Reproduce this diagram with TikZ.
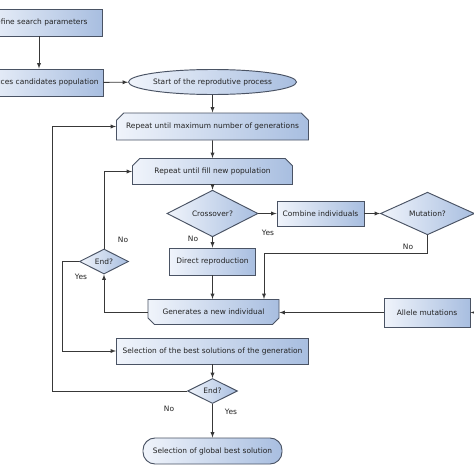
\documentclass[tikz,border=0pt]{standalone}
\usepackage{fontspec}
\setmainfont{DejaVu Sans}
\usepackage{tikz}
\usetikzlibrary{arrows}
\usetikzlibrary{shapes.geometric, shapes.misc}

\definecolor{boxline}{HTML}{4A5364}
\definecolor{boxlight}{HTML}{F0F4FB}
\definecolor{boxdark}{HTML}{A8BEE0}
\definecolor{wire}{HTML}{383838}
\definecolor{ink}{HTML}{222222}

\begin{document}
\begin{tikzpicture}[x=1pt, y=-1pt,
  every node/.style={font=\fontsize{7.45}{8.5}\selectfont, text=ink, inner sep=0pt},
  blockbox/.style={draw=boxline, line width=0.95pt, left color=boxlight, right color=boxdark, rectangle, minimum height=26pt},
  loopstart/.style={blockbox, chamfered rectangle, chamfered rectangle corners={north west, north east}, chamfered rectangle xsep=5pt},
  loopend/.style={blockbox, chamfered rectangle, chamfered rectangle corners={south west, south east}, chamfered rectangle xsep=5pt},
  decision/.style={blockbox, diamond},
  startoval/.style={blockbox, ellipse},
  terminal/.style={blockbox, rounded corners=12pt},
  lbl/.style={text=ink},
  flow/.style={->, >=latex, draw=wire, line width=0.9pt}]
\path[use as bounding box, clip] (0,0) rectangle (474,474);

\node[blockbox, minimum width=126pt, minimum height=27pt] (Def) at (39,22.5) {Define search parameters};
\node[blockbox, minimum width=128pt, minimum height=27pt] (Pop) at (39,82.5) {Produces candidates population};
\node[startoval, minimum width=128pt, minimum height=25pt] (Start) at (212.5,82) {Start of the reprodutive process};
\node[loopstart, minimum width=192pt, minimum height=27pt] (RepGen) at (212.5,126.5) {Repeat until maximum number of generations};
\node[loopstart, minimum width=160pt, minimum height=26pt] (RepPop) at (212.5,171.5) {Repeat until fill new population};
\node[decision, minimum width=91pt, minimum height=32pt] (Cross) at (212.5,213.5) {Crossover?};
\node[blockbox, minimum width=87pt, minimum height=25pt] (Comb) at (320.5,213.5) {Combine individuals};
\node[decision, minimum width=94pt, minimum height=32pt] (Mut) at (427.5,213.5) {Mutation?};
\node[blockbox, minimum width=86pt, minimum height=27pt] (Direct) at (212.5,261.5) {Direct reproduction};
\node[decision, minimum width=49pt, minimum height=25pt] (EndPop) at (104,261.5) {End?};
\node[loopend, minimum width=131pt, minimum height=25pt] (NewInd) at (213.5,312) {Generates a new individual};
\node[blockbox, minimum width=86pt, minimum height=29pt] (Allele) at (427,312.5) {Allele mutations};
\node[blockbox, minimum width=192pt, minimum height=26pt] (SelGen) at (212.5,351) {Selection of the best solutions of the generation};
\node[decision, minimum width=50pt, minimum height=25pt] (EndGen) at (212.5,391) {End?};
\node[terminal, minimum width=139pt, minimum height=26pt] (Global) at (212.5,451) {Selection of global best solution};

\coordinate (MutTurn) at (264,253);
\coordinate (YesTurn) at (62,261.5);
\coordinate (NoTurn) at (52,391);

\draw[flow] (Def) to (Pop);
\draw[flow] (Pop) to (Start);
\draw[flow] (Start) to (RepGen);
\draw[flow] (RepGen) to (RepPop);
\draw[flow] (RepPop) to (Cross);
\draw[flow] (Cross) to (Comb);
\draw[flow] (Comb) to (Mut);
\draw[flow] (Cross) to (Direct);
\draw[flow] (Direct) to (NewInd.north -| Direct);
\draw[flow] (Mut.south) |- (MutTurn) -- (MutTurn |- NewInd.north);
\draw[flow] (Mut.east) -- ++(12,0) |- (Allele.east);
\draw[flow] (Allele.west) -- (Allele.west -| NewInd.east);
\draw[flow] (NewInd.west) -| (EndPop.south);
\draw[flow] (EndPop.north) |- (RepPop.west);
\draw[flow] (EndPop.west) -- (YesTurn) |- (SelGen.west);
\draw[flow] (SelGen) to (EndGen);
\draw[flow] (EndGen) to (Global);
\draw[flow] (EndGen.west) -- (NoTurn) |- (RepGen.west);

\node[lbl] (CrossNo) at (193,239) {No};
\node[lbl] (CrossYes) at (268,233) {Yes};
\node[lbl] (MutNo) at (408,247) {No};
\node[lbl] (PopNo) at (123,240) {No};
\node[lbl] (PopYes) at (81,277) {Yes};
\node[lbl] (GenNo) at (169,409) {No};
\node[lbl] (GenYes) at (231,412) {Yes};
\end{tikzpicture}
\end{document}
